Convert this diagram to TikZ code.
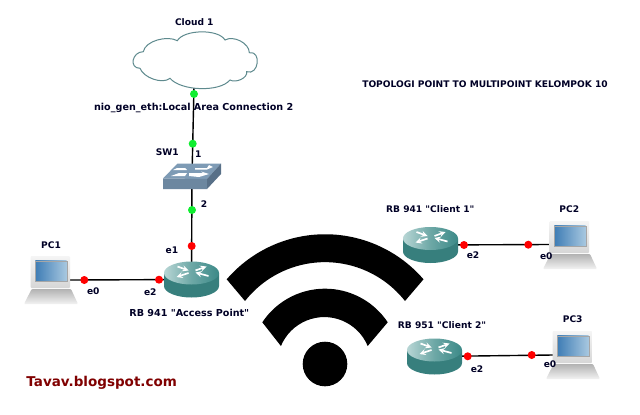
\documentclass[tikz,border=0pt]{standalone}
\usepackage{fontspec}
\setmainfont{DejaVu Sans}
\newfontfamily\lab{DejaVu Sans Bold}
\newfontfamily\brand{DejaVu Sans Bold}
\usetikzlibrary{shadings}
\definecolor{teal1}{HTML}{3C8A88}
\definecolor{teal2}{HTML}{B8D6D5}
\definecolor{swtop}{HTML}{7E9BB5}
\definecolor{swfront}{HTML}{6C87A0}
\definecolor{swside}{HTML}{587088}
\definecolor{cloudline}{HTML}{5E8A8E}
\definecolor{scrA}{HTML}{3F7DB5}
\definecolor{scrB}{HTML}{A8C8E0}
\definecolor{linkgreen}{HTML}{10EE30}
\tikzset{
  lbl/.style={font=\lab\fontsize{9.1}{10}\selectfont,text=black!85!blue,inner sep=0pt},
  lblwide/.style={lbl,font=\lab\fontsize{9.6}{10}\selectfont},
  link/.style={draw=black,line width=1.4pt},
  reddot/.style={circle,fill=red,inner sep=0pt,minimum size=8pt},
  greendot/.style={circle,fill=linkgreen,inner sep=0pt,minimum size=8pt},
  anchorpt/.style={inner sep=0pt,minimum size=0pt},
  xarrow/.style={white,line width=1.7pt,-stealth},
  pics/routericon/.style={code={
    \fill[teal1!92!black] (-27.5,-6.5) -- (-27.5,6.5) arc[start angle=180,end angle=0,x radius=27.5,y radius=11.5] -- (27.5,-6.5) -- cycle;
    \shade[left color=teal2,right color=teal1,middle color=teal1!75!white] (0,-6.5) ellipse[x radius=27.5,y radius=11.5];
    \draw[xarrow] (-14,-13) -- (-3,-9);
    \draw[xarrow] (4,-9) -- (15,-13);
    \draw[xarrow] (-3,-6.5) -- (-15,-2.5);
    \draw[xarrow] (17,-3.5) -- (4,-7);
  }},
  pics/pcicon/.style={code={
    \shade[top color=black!30,bottom color=black!5,rounded corners=1pt] (7.7,34) -- (47,34) -- (54,49) -- (0,49) -- cycle;
    \shade[top color=black!4,bottom color=black!16,rounded corners=1pt] (6.7,1) rectangle (46,33);
    \shade[left color=scrA,right color=scrB,draw=black!35] (11.3,5.7) rectangle (42.7,26);
  }},
  pics/switchicon/.style={code={
    \fill[swtop] (0,15.5) -- (14.5,0.5) -- (58,0.5) -- (44,16) -- cycle;
    \fill[swfront] (0,15.5) -- (44,16) -- (44,26) -- (0,26) -- cycle;
    \fill[swside] (44,16) -- (58,0.5) -- (58,11) -- (44,26) -- cycle;
    \fill[white] (10,7) -- (24,7) -- (22,5) -- (14,5) -- cycle;
    \fill[white] (32,5) -- (44,5) -- (46,2) -- (50,4) -- (44,6.5) -- (32,6.5) -- cycle;
    \fill[white] (8,13) -- (16,10) -- (24,10) -- (22,13) -- cycle;
    \fill[white] (26,10) -- (40,10) -- (38,8.5) -- (46,11) -- (36,14) -- (26,13) -- cycle;
  }}
}
\begin{document}
\begin{tikzpicture}[x=1pt,y=-1pt]
\useasboundingbox (0,0) rectangle (640,415);
\fill[white] (0,0) rectangle (640,415);
% anchors for devices
\node[anchorpt] (cloud) at (194,86) {};
\node[anchorpt] (sw) at (192,176) {};
\node[anchorpt] (ap) at (191.5,279.5) {};
\node[anchorpt] (pc1) at (70,280) {};
\node[anchorpt] (c1) at (430.5,245) {};
\node[anchorpt] (pc2) at (550,244.5) {};
\node[anchorpt] (c2) at (434.5,356.5) {};
\node[anchorpt] (pc3) at (553,355) {};
% wifi
\fill[black] (226.7,279.3) arc[start angle=220.8,end angle=319.2,radius=130] -- (405,301) arc[start angle=321.8,end angle=218.2,radius=101.8] -- cycle;
\fill[black] (262.3,322.3) arc[start angle=213.6,end angle=326.4,radius=75.3] -- (367.7,346) arc[start angle=337.4,end angle=202.6,radius=47] -- cycle;
\fill[black] (325,364) circle[radius=22.3];
% links
\draw[link] (cloud) -- (sw);
\draw[link] (sw) -- (ap);
\draw[link] (pc1) -- (ap);
\draw[link] (c1) -- (pc2);
\draw[link] (c2) -- (pc3);
% cloud
\filldraw[fill=white,draw=cloudline,line width=1pt] (143.3,51.7) to[out=80,in=150,looseness=.8] (177.3,40.7) to[out=60,in=120,looseness=.7] (225,40) to[out=30,in=90,looseness=.9] (249.3,52.7) to[out=10,in=-20,looseness=1.7] (246.7,71.7) to[out=-80,in=-30,looseness=.9] (230,80) to[out=-130,in=-50,looseness=.7] (170,78.3) to[out=-140,in=-70,looseness=.8] (140,68.3) to[out=180,in=180,looseness=1.7] cycle;
% devices
\pic at (163,163) {switchicon};
\pic at (191.5,279.5) {routericon};
\pic at (430.5,245) {routericon};
\pic at (434.5,356.5) {routericon};
\pic at (24,255) {pcicon};
\pic at (543,220) {pcicon};
\pic at (546,330) {pcicon};
% endpoints
\node[greendot] (g1) at (194,94) {};
\node[greendot] (g2) at (192.7,143.7) {};
\node[greendot] (g3) at (192,210) {};
\node[reddot] (r1) at (191.7,246) {};
\node[reddot] (r2) at (84.3,280) {};
\node[reddot] (r3) at (159,279.7) {};
\node[reddot] (r4) at (464,245) {};
\node[reddot] (r5) at (528.3,244.7) {};
\node[reddot] (r6) at (467.7,356.3) {};
\node[reddot] (r7) at (531.7,355) {};
% labels
\node[lbl] (t1) at (194.3,22) {Cloud 1};
\node[lblwide] (t2) at (193.7,108) {nio\_gen\_eth:Local Area Connection 2};
\node[lbl] (t3) at (167.3,151.7) {SW1};
\node[lbl] (t4) at (198.3,154) {1};
\node[lbl] (t5) at (204,204) {2};
\node[lbl] (t6) at (172,250) {e1};
\node[lbl] (t7) at (51,245) {PC1};
\node[lbl] (t8) at (93.3,290.7) {e0};
\node[lbl] (t9) at (150.3,292) {e2};
\node[lblwide] (t10) at (189.3,312.7) {RB 941 "Access Point"};
\node[lbl] (t11) at (430.3,209.3) {RB 941 "Client 1"};
\node[lbl] (t12) at (569.3,209.3) {PC2};
\node[lbl] (t13) at (473,255.3) {e2};
\node[lbl] (t14) at (546.3,256) {e0};
\node[lbl] (t15) at (442,325) {RB 951 "Client 2"};
\node[lbl] (t16) at (572.7,319.3) {PC3};
\node[lbl] (t17) at (477,369.3) {e2};
\node[lbl] (t18) at (550,363.7) {e0};
\node[lbl] (t19) at (485,84) {TOPOLOGI POINT TO MULTIPOINT KELOMPOK 10};
\node[inner sep=0pt,font=\brand\fontsize{13.5}{15}\selectfont,text=red!50!black] (t20) at (101.7,382.7) {Tavav.blogspot.com};
\end{tikzpicture}
\end{document}
